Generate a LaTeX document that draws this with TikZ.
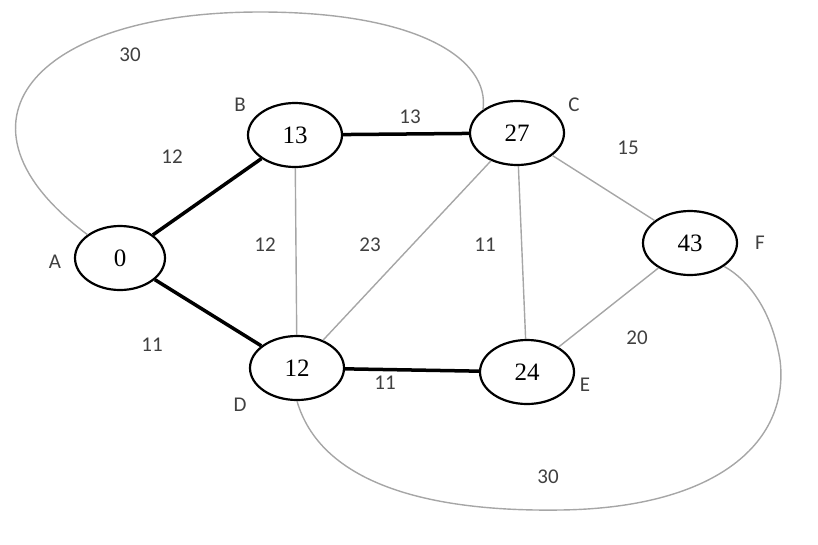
\documentclass[tikz,border=0pt]{standalone}
\usepackage{fontspec}
\setmainfont{Liberation Serif}
\newfontfamily\lab{Carlito}
\usetikzlibrary{shapes.geometric}
\tikzset{
 vtx/.style={draw,ellipse,line width=2.2pt,minimum width=94pt,minimum height=64pt,inner sep=0pt,font=\fontsize{25}{25}\selectfont},
 thick edge/.style={line width=3.5pt},
 thin edge/.style={line width=1.4pt,gray!70},
 lbl/.style={font=\lab\fontsize{21}{21}\selectfont,text=black!75},
}
\begin{document}
\begin{tikzpicture}[x=1pt,y=-1pt]
\useasboundingbox (0,0) rectangle (818,544);
\node[vtx,minimum width=90pt] (A) at (120,258) {0};
\node[vtx] (B) at (295,135) {13};
\node[vtx] (C) at (517,133) {27};
\node[vtx] (D) at (297,368) {12};
\node[vtx] (E) at (527,372) {24};
\node[vtx] (F) at (690,243) {43};
\draw[thick edge] (A) -- (B);
\draw[thick edge] (B) -- (C);
\draw[thick edge] (A) -- (D);
\draw[thick edge] (D) -- (E);
\draw[thin edge] (B) -- (D);
\draw[thin edge] (D) -- (C);
\draw[thin edge] (C) -- (E);
\draw[thin edge] (C) -- (F);
\draw[thin edge] (E) -- (F);
\draw[thin edge] (A.north west) .. controls (-60,125) and (30,12) .. (260,12) .. controls (420,12) and (490,60) .. (C.north west);
\draw[thin edge] (D.south) .. controls (320,480) and (420,512) .. (560,510) .. controls (720,508) and (790,440) .. (780,360) .. controls (770,300) and (740,275) .. (F.south east);
\node[lbl] (lA) at (55,262) {A};
\node[lbl] (lB) at (240,105) {B};
\node[lbl] (lC) at (574,105) {C};
\node[lbl] (lD) at (240,405) {D};
\node[lbl] (lE) at (585,385) {E};
\node[lbl] (lF) at (760,243) {F};
\node[lbl] (w1) at (172,157) {12};
\node[lbl] (w2) at (410,117) {13};
\node[lbl] (w3) at (628,148) {15};
\node[lbl] (w4) at (265,245) {12};
\node[lbl] (w5) at (370,245) {23};
\node[lbl] (w6) at (485,245) {11};
\node[lbl] (w7) at (152,345) {11};
\node[lbl] (w8) at (385,383) {11};
\node[lbl] (w9) at (637,338) {20};
\node[lbl] (w10) at (130,55) {30};
\node[lbl] (w11) at (548,477) {30};
\end{tikzpicture}
\end{document}
